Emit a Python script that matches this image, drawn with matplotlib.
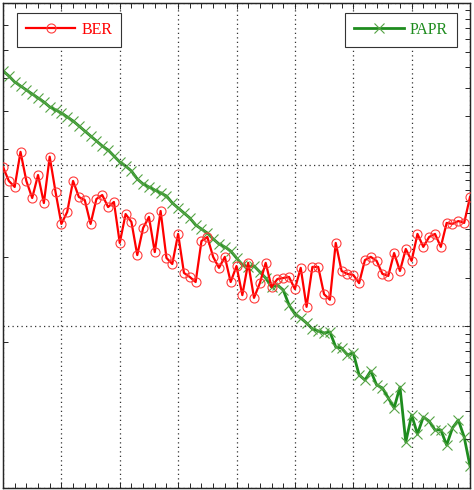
import numpy as np
import matplotlib
matplotlib.use("Agg")
import matplotlib.pyplot as plt
from matplotlib.ticker import LogLocator, MultipleLocator, NullFormatter

# ---------------- data ----------------
snr_index = list(range(81))

ber = [9.67e-2, 7.93e-2, 7.28e-2, 1.20e-1, 7.93e-2, 6.22e-2, 8.63e-2, 5.79e-2, 1.12e-1, 6.78e-2,
       4.30e-2, 5.10e-2, 7.93e-2, 6.31e-2, 6.05e-2, 4.30e-2, 6.13e-2, 6.49e-2, 5.47e-2, 5.88e-2,
       3.28e-2, 4.95e-2, 4.42e-2, 2.76e-2, 4.06e-2, 4.75e-2, 2.88e-2, 5.17e-2, 2.65e-2, 2.43e-2,
       3.73e-2, 2.14e-2, 2.02e-2, 1.88e-2, 3.37e-2, 3.57e-2, 2.69e-2, 2.30e-2, 2.69e-2, 1.88e-2,
       2.36e-2, 1.56e-2, 2.47e-2, 1.50e-2, 1.85e-2, 2.47e-2, 1.75e-2, 1.96e-2, 1.99e-2, 2.02e-2,
       1.70e-2, 2.30e-2, 1.32e-2, 2.33e-2, 2.33e-2, 1.58e-2, 1.46e-2, 3.28e-2, 2.20e-2, 2.11e-2,
       2.08e-2, 1.85e-2, 2.57e-2, 2.69e-2, 2.54e-2, 2.11e-2, 2.05e-2, 2.84e-2, 2.20e-2, 3.01e-2,
       2.54e-2, 3.73e-2, 3.10e-2, 3.57e-2, 3.73e-2, 3.10e-2, 4.36e-2, 4.30e-2, 4.48e-2, 4.36e-2,
       6.31e-2]

papr = [7.243, 7.073, 6.874, 6.745, 6.618, 6.494, 6.372, 6.252, 6.106, 6.019,
        5.934, 5.823, 5.713, 5.579, 5.448, 5.320, 5.195, 5.073, 4.977, 4.837,
        4.701, 4.612, 4.504, 4.336, 4.235, 4.175, 4.116, 4.058, 4.001, 3.870,
        3.779, 3.690, 3.604, 3.486, 3.420, 3.356, 3.262, 3.185, 3.140, 3.081,
        2.981, 2.883, 2.856, 2.870, 2.789, 2.710, 2.597, 2.622, 2.561, 2.384,
        2.284, 2.241, 2.189, 2.128, 2.108, 2.088, 2.098, 1.953, 1.944, 1.881,
        1.899, 1.710, 1.670, 1.743, 1.631, 1.608, 1.533, 1.462, 1.615, 1.244,
        1.414, 1.292, 1.401, 1.374, 1.317, 1.317, 1.226, 1.330, 1.381, 1.274,
        1.110]

ber_label = "BER"
papr_label = "PAPR"

# ---------------- figure ----------------
fig = plt.figure(figsize=(4.74, 4.90), dpi=100)
W, H = 474, 490
ax1 = fig.add_axes([3 / W, (H - 488) / H, 467 / W, 485 / H])
ax2 = ax1.twinx()

red = "#ff0000"
green = "#1e8c1e"

l_papr, = ax1.plot(snr_index, papr, color=green, lw=2.0, marker="x", ms=7,
                   mec="#55a345", mew=0.8, zorder=3)
l_ber, = ax2.plot(snr_index, ber, color=red, lw=1.6, marker="o", ms=6.5,
                  mfc="none", mec="#ff3b3b", mew=0.8, zorder=3)

ax1.set_xlim(0, 80)
ax1.set_yscale("log")
ax1.set_ylim(1, 10)
ax2.set_yscale("log")
ax2.set_ylim(1e-3, 1e0)

grid_style = dict(color="0.2", linestyle=(0, (1.0, 2.6)), linewidth=0.9)
ax1.xaxis.set_major_locator(MultipleLocator(10))
ax1.xaxis.set_minor_locator(MultipleLocator(2))
ax1.grid(True, axis="x", which="major", **grid_style)
ax2.grid(True, axis="y", which="major", **grid_style)
ax1.set_axisbelow(True)
ax2.set_axisbelow(True)

ax1.yaxis.set_major_locator(LogLocator(base=10, numticks=10))
ax1.yaxis.set_minor_locator(LogLocator(base=10, subs=np.arange(2, 10), numticks=10))
ax2.yaxis.set_major_locator(LogLocator(base=10, numticks=10))
ax2.yaxis.set_minor_locator(LogLocator(base=10, subs=np.arange(2, 10), numticks=10))

for ax in (ax1, ax2):
    ax.tick_params(which="both", direction="in", labelbottom=False, labeltop=False,
                   labelleft=False, labelright=False, color="0.15", width=0.7)
    ax.tick_params(which="major", length=4)
    ax.tick_params(which="minor", length=3.5)
    ax.yaxis.set_minor_formatter(NullFormatter())
    for s in ax.spines.values():
        s.set_linewidth(0.9)
        s.set_color("0.15")
ax1.tick_params(which="both", top=True, bottom=True, left=True, right=False)
ax2.tick_params(which="both", left=False, right=True)

font = dict(family="Liberation Serif", size=11.5)
leg1 = ax2.legend([l_ber], [ber_label], loc="upper left",
                  bbox_to_anchor=((17 - 3) / 467, (488 - 13) / 485),
                  prop=font, handlelength=3.1, frameon=True, fancybox=False,
                  edgecolor="0.2", framealpha=1, borderpad=0.55, handletextpad=0.4,
                  borderaxespad=0)
leg1.get_frame().set_linewidth(0.8)
leg1.get_texts()[0].set_color(red)
ax2.add_artist(leg1)
leg2 = ax2.legend([l_papr], [papr_label], loc="upper right",
                  bbox_to_anchor=((457 - 3) / 467, (488 - 13) / 485),
                  prop=font, handlelength=3.1, frameon=True, fancybox=False,
                  edgecolor="0.2", framealpha=1, borderpad=0.55, handletextpad=0.4,
                  borderaxespad=0)
leg2.get_frame().set_linewidth(0.8)
leg2.get_texts()[0].set_color(green)

fig.savefig("out.png", dpi=100)
